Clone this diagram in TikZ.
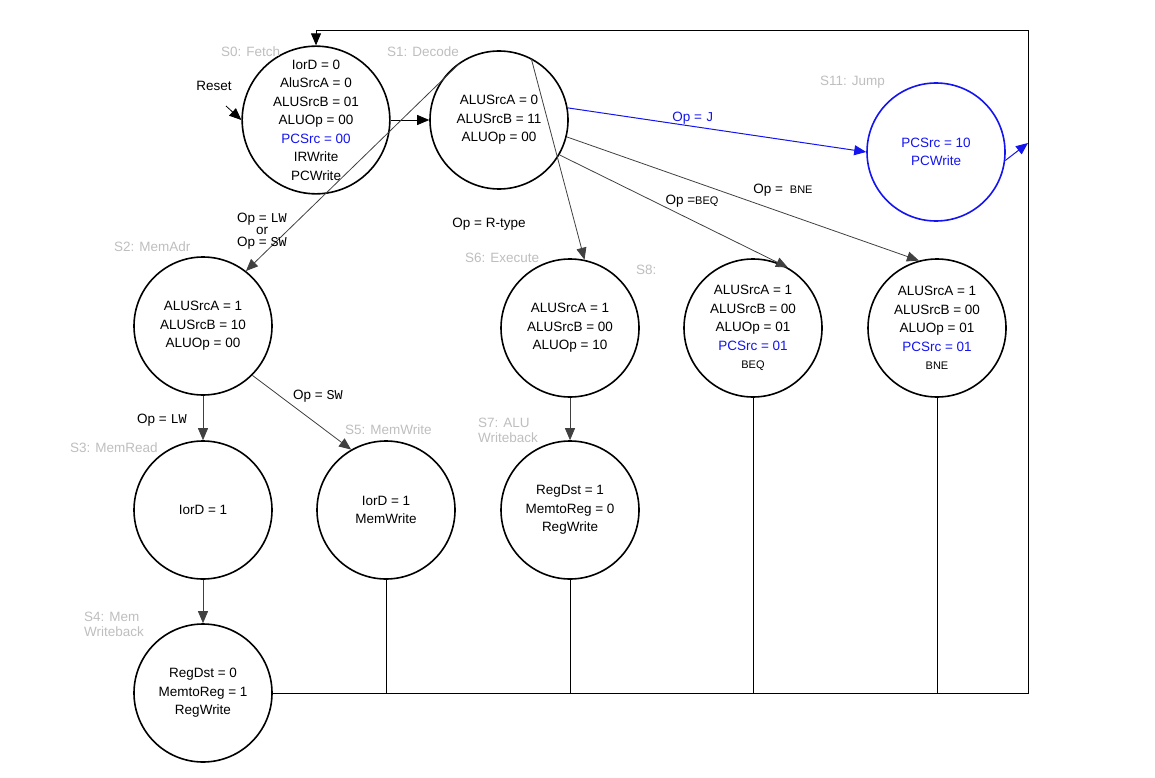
\documentclass[tikz,border=0pt]{standalone}
\usepackage{fontspec}
\setmainfont{Liberation Sans}
\setmonofont{Liberation Mono}
\usetikzlibrary{arrows.meta}
\definecolor{lbl}{RGB}{190,190,190}
\definecolor{pcb}{RGB}{20,20,240}
\begin{document}
\begin{tikzpicture}[x=1pt,y=-1pt,
  st/.style={circle,draw,line width=1.6pt,minimum size=138pt,inner sep=0pt,align=center,font=\fontsize{13.5}{18.5}\selectfont},
  tag/.style={text=lbl,font=\fontsize{13.5}{15}\selectfont,inner sep=0pt},
  el/.style={font=\fontsize{13.5}{15}\selectfont,inner sep=0pt,align=center},
  ar/.style={-{Triangle[length=12pt,width=10pt]},draw=black!75,line width=0.8pt},
  ln/.style={draw=black,line width=0.8pt}]
\useasboundingbox (0,0) rectangle (1155,778);
\node[st] (s0) at (316,120) {IorD = 0\\AluSrcA = 0\\ALUSrcB = 01\\ALUOp = 00\\\textcolor{pcb}{PCSrc = 00}\\IRWrite\\PCWrite};
\node[st] (s1) at (499,120) {ALUSrcA = 0\\ALUSrcB = 11\\ALUOp = 00};
\node[st,draw=pcb,text=pcb] (s11) at (936,152) {PCSrc = 10\\PCWrite};
\node[st] (s2) at (203,326) {ALUSrcA = 1\\ALUSrcB = 10\\ALUOp = 00};
\node[st] (s6) at (570,328) {ALUSrcA = 1\\ALUSrcB = 00\\ALUOp = 10};
\node[st] (s8) at (753,328) {ALUSrcA = 1\\ALUSrcB = 00\\ALUOp = 01\\\textcolor{pcb}{PCSrc = 01}\\{\fontsize{11}{13}\selectfont BEQ}};
\node[st] (s9) at (937,328) {ALUSrcA = 1\\ALUSrcB = 00\\ALUOp = 01\\\textcolor{pcb}{PCSrc = 01}\\{\fontsize{11}{13}\selectfont BNE}};
\node[st] (s3) at (203,510) {IorD = 1};
\node[st] (s5) at (386,510) {IorD = 1\\MemWrite};
\node[st] (s7) at (570,510) {RegDst = 1\\MemtoReg = 0\\RegWrite};
\node[st] (s4) at (203,693) {RegDst = 0\\MemtoReg = 1\\RegWrite};
% state tags
\node[tag,anchor=west] (t0) at (221,52) {S0: Fetch};
\node[tag,anchor=west] (t1) at (387,52) {S1: Decode};
\node[tag,anchor=west] (t11) at (820,82) {S11: Jump};
\node[tag,anchor=west] (t2) at (114,247) {S2: MemAdr};
\node[tag,anchor=west] (t6) at (465,258) {S6: Execute};
\node[tag,anchor=west] (t8) at (636,270) {S8:};
\node[tag,anchor=west] (t3) at (70,448) {S3: MemRead};
\node[tag,anchor=west] (t5) at (345,430) {S5: MemWrite};
\node[tag,anchor=west,align=left] (t7) at (478,430) {S7: ALU\\Writeback};
\node[tag,anchor=west,align=left] (t4) at (84,624) {S4: Mem\\Writeback};
% reset
\node[el] (rst) at (214,86) {Reset};
\coordinate (r0) at (226,106);
\draw[ar,draw=black] (r0) -- (s0.west);
% arrows
\draw[ar,draw=black] (s0.east) -- (s1.west);
\draw[ar,draw=pcb,line width=1pt,-{Triangle[length=12pt,width=10pt]}] (s1.10) -- (s11.west) node[pos=0.42,above=2pt,text=pcb,el] {Op = \texttt{J}};
\draw[ar] (s1) ++(-125:69) coordinate (a1) -- (s2.52);
\node[el] (l12) at (262,231) {Op = \texttt{LW}\\[-3pt]or\\[-3pt]Op = \texttt{SW}};
\draw[ar] (s1) ++(-62:69) coordinate (a2) -- (s6.78);
\node[el] (l16) at (489,224) {Op = R-type};
\draw[ar] (s1.-30) -- (s8.60);
\node[el] (lbeq) at (692,201) {Op =\fontsize{11}{13}\selectfont BEQ};
\draw[ar] (s1.-14) -- (s9.105);
\node[el] (lbne) at (783,190) {Op = \fontsize{11}{13}\selectfont\ BNE};
\draw[ar] (s2.south) -- (s3.north);
\node[el] (llw) at (162,420) {Op = \texttt{LW}};
\draw[ar] (s2.-45) -- (s5.120);
\node[el] (lsw) at (318,396) {Op = \texttt{SW}};
\draw[ar] (s6.south) -- (s7.north);
\draw[ar] (s3.south) -- (s4.north);
% return path
\coordinate (c1) at (1028,693);
\coordinate (c2) at (1028,30);
\coordinate (c3) at (316,30);
\coordinate (j5) at (386,693);
\coordinate (j7) at (570,693);
\coordinate (j8) at (753,693);
\coordinate (j9) at (937,693);
\draw[ln] (s4.east) -- (c1) -- (c2) -- (c3);
\draw[ar,draw=black] (c3) -- (s0.north);
\draw[ln] (s5.south) -- (j5);
\draw[ln] (s7.south) -- (j7);
\draw[ln] (s8.south) -- (j8);
\draw[ln] (s9.south) -- (j9);
\coordinate (o11) at (1028,143);
\draw[ar,draw=pcb,line width=1pt] (s11.-7) -- (o11);
\end{tikzpicture}
\end{document}
